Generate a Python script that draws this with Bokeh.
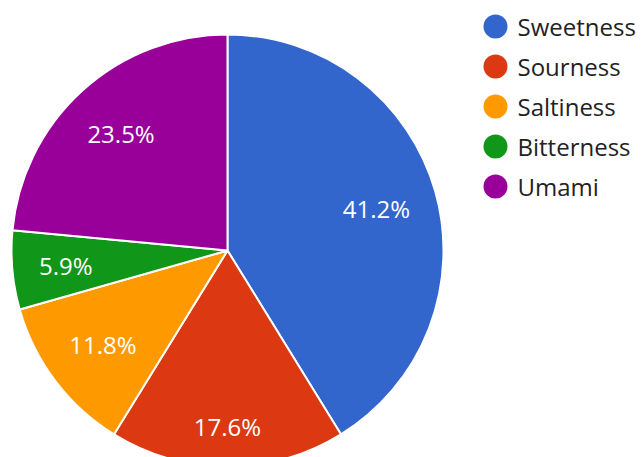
from math import pi, sin, cos, sqrt
from bokeh.plotting import figure
from bokeh.models import Range1d, ColumnDataSource
from bokeh.core.properties import value
from bokeh.embed import file_html
from bokeh.resources import INLINE

categories = ["Sweetness", "Sourness", "Saltiness", "Bitterness", "Umami"]
percents = [41.2, 17.6, 11.8, 5.9, 23.5]
colors = ["#3366cc", "#dc3912", "#ff9900", "#109618", "#990099"]

W, H = 641, 457
cx, cy, R = 227, H - 250, 216
FONT = "Open Sans"
FS = 24

# approximate Open Sans advance widths (em) for label text width
ADV = {".": 0.266, "%": 0.828}


def text_width(s):
    return sum(ADV.get(ch, 0.572) for ch in s) * FS


total = sum(percents)
starts, ends, lx, ly, labels = [], [], [], [], []
acc = 0.0
D = 0.882 * R  # farthest corner of label box from centre
for v in percents:
    a0 = acc / total * 2 * pi
    acc += v
    a1 = acc / total * 2 * pi
    starts.append(pi / 2 - a0)
    ends.append(pi / 2 - a1)
    mid = (a0 + a1) / 2
    ux, uy = sin(mid), cos(mid)
    lab = f"{v / total * 100:.1f}%"
    w, h = text_width(lab), FS
    c_x = (w / 2) * (1 if ux >= 0 else -1)
    c_y = (h / 2) * (1 if uy >= 0 else -1)
    b = ux * c_x + uy * c_y
    cc = c_x * c_x + c_y * c_y - D * D
    t = (-b + sqrt(b * b - cc))
    lx.append(cx + t * ux)
    ly.append(cy + t * uy)
    labels.append(lab)

src = ColumnDataSource(dict(start=starts, end=ends, color=colors, lx=lx, ly=ly, label=labels))

p = figure(width=W, height=H, x_range=Range1d(0, W), y_range=Range1d(0, H),
           x_axis_type=None, y_axis_type=None, toolbar_location=None,
           output_backend="svg", min_border=0)
p.outline_line_color = None
p.grid.visible = False
p.background_fill_color = "white"

p.wedge(x=cx, y=cy, radius=R, start_angle="start", end_angle="end", direction="clock",
        fill_color="color", line_color="white", line_width=2, source=src)
p.text(x="lx", y="ly", text="label", source=src, text_color="white",
       text_font=value(FONT), text_font_size=f"{FS}px", text_align="center",
       text_baseline="middle")

# legend
leg_y = [H - (26 + 40 * i) for i in range(len(categories))]
leg_src = ColumnDataSource(dict(x=[495] * len(categories), tx=[517] * len(categories),
                                y=leg_y, color=colors, name=categories))
p.scatter(x="x", y="y", size=24, fill_color="color", line_color=None, source=leg_src)
p.text(x="tx", y="y", text="name", source=leg_src, text_color="#222222",
       text_font=value(FONT), text_font_size=f"{FS}px", text_align="left",
       text_baseline="middle")

open("out.html", "w").write(file_html(p, INLINE))
